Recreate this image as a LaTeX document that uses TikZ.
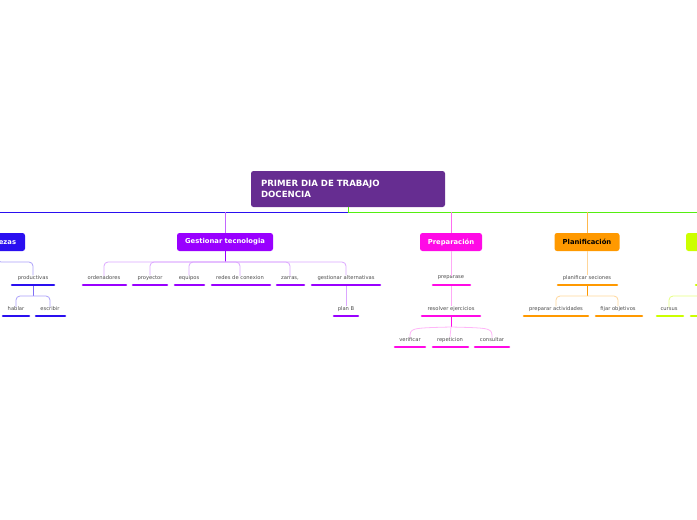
\documentclass[tikz,border=0pt]{standalone}
\usepackage{fontspec}
\setmainfont{DejaVu Sans}
\begin{document}
\begin{tikzpicture}[x=1pt,y=-1pt,
 box/.style={rounded corners=2.5pt,minimum height=18pt,inner sep=0pt,font=\bfseries\fontsize{6.8}{8}\selectfont,text=white},
 lab/.style={font=\fontsize{5.2}{6}\selectfont,text=black!70,inner sep=0pt},
 bar/.style={line width=2.6pt,line cap=round},
 con/.style={line width=0.8pt,rounded corners=4pt}]
\definecolor{cmain}{HTML}{662D91}
\definecolor{cblue}{HTML}{2A0FF0}
\definecolor{cpur}{HTML}{9900FF}
\definecolor{cmag}{HTML}{FF0AE6}
\definecolor{cora}{HTML}{FF9900}
\definecolor{cyel}{HTML}{CCFF00}
\definecolor{cgrn}{HTML}{55EE11}
\useasboundingbox (0,0) rectangle (697,520);
\clip (0,0) rectangle (697,520);
% main
\node[box,fill=cmain,minimum width=194pt,minimum height=36pt,font=\bfseries\fontsize{8.6}{11}\selectfont,align=left,text width=174pt] (main) at (348,189) {PRIMER DIA DE TRABAJO\\DOCENCIA};
\coordinate (mb) at (348,212);
\draw[cblue,line width=1pt] (0,212) -- (mb);
\draw[cgrn,line width=1pt] (mb) -- (697,212);
\draw[cgrn,line width=1pt] (main.south) -- (mb);
% branch boxes
\node[box,fill=cblue,minimum width=56pt] (des) at (-3,242) {Destrezas};
\node[box,fill=cpur,minimum width=96pt] (ges) at (225,242) {Gestionar tecnologia};
\node[box,fill=cmag,minimum width=62pt] (pre) at (451,242) {Preparación};
\node[box,fill=cora,minimum width=65pt,text=black] (pla) at (587,242) {Planificación};
\node[box,fill=cyel,minimum width=60pt,text=black] (fin) at (716,242) {F};
\draw[cpur!60,line width=1pt] (225,212) -- (ges.north);
\draw[cmag!60,line width=1pt] (451,212) -- (pre.north);
\draw[cora!70,line width=1pt] (587,212) -- (pla.north);
% Destrezas children
\node[lab] (prod) at (33,278) {productivas};
\draw[bar,cblue] (12,285) -- (54,285);
\draw[con,cblue!40] (des.south) |- (33,262) -- (prod.north);
\node[lab] (hab) at (16,309) {hablar};
\draw[bar,cblue] (3,316) -- (29,316);
\node[lab] (esc) at (50,309) {escribir};
\draw[bar,cblue] (36,316) -- (65,316);
\draw[cblue!60,line width=0.8pt] (33,286) -- (33,296);
\draw[con,cblue!40] (hab.north) |- (33,296) -| (esc.north);
% Gestionar children
\node[lab] (ord) at (104,278) {ordenadores};
\draw[bar,cpur] (83,285) -- (126,285);
\node[lab] (pro) at (150,278) {proyector};
\draw[bar,cpur] (133,285) -- (167,285);
\node[lab] (equ) at (189,278) {equipos};
\draw[bar,cpur] (175,285) -- (204,285);
\node[lab] (red) at (240,278) {redes de conexion};
\draw[bar,cpur] (212,285) -- (270,285);
\node[lab] (zar) at (290,278) {zarras,};
\draw[bar,cpur] (277,285) -- (304,285);
\node[lab] (alt) at (346,278) {gestionar alternativas};
\draw[bar,cpur] (312,285) -- (380,285);
\draw[cpur,line width=0.8pt] (ges.south) -- (225,262);
\draw[con,cpur!35] (ord.north) |- (225,262) -| (alt.north);
\foreach \n in {pro,equ,red,zar}{\draw[con,cpur!35] (\n.north) |- (225,262);}
\node[lab] (plb) at (346,309) {plan B};
\draw[bar,cpur] (334,316) -- (358,316);
\draw[cpur!35,line width=0.8pt] (346,286) -- (plb.north);
% Preparacion children
\node[lab] (prp) at (451,278) {preparase};
\draw[bar,cmag] (433,285) -- (470,285);
\draw[cmag!35,line width=0.8pt] (pre.south) -- (prp.north);
\node[lab] (res) at (451,309) {resolver ejercicios};
\draw[bar,cmag] (422,316) -- (480,316);
\draw[cmag!35,line width=0.8pt] (451,286) -- (res.north);
\node[lab] (ver) at (410,340) {verificar};
\draw[bar,cmag] (395,347) -- (425,347);
\node[lab] (rep) at (450,340) {repeticion};
\draw[bar,cmag] (433,347) -- (468,347);
\node[lab] (con) at (492,340) {consultar};
\draw[bar,cmag] (475,347) -- (509,347);
\draw[cmag,line width=0.8pt] (451,317) -- (451,327);
\draw[cmag!30,line width=0.8pt] (ver.north) .. controls (410,328) .. (451,327) .. controls (492,328) .. (con.north);
\draw[cmag!30,line width=0.8pt] (451,327) -- (rep.north);
% Planificacion children
\node[lab] (pls) at (587,278) {planificar seciones};
\draw[bar,cora] (558,285) -- (617,285);
\draw[cora!40,line width=0.8pt] (pla.south) -- (pls.north);
\node[lab] (pa) at (556,309) {preparar actividades};
\draw[bar,cora] (524,316) -- (588,316);
\node[lab] (fo) at (618,309) {fijar objetivos};
\draw[bar,cora] (596,316) -- (642,316);
\draw[cora,line width=0.8pt] (587,286) -- (587,296);
\draw[con,cora!40] (pa.north) |- (587,296) -| (fo.north);
% right branch children
\draw[bar,cyel] (696,285) -- (720,285);
\node[lab] (cur) at (669,309) {cursus};
\draw[bar,cyel] (657,316) -- (683,316);
\draw[bar,cyel] (691,316) -- (720,316);
\draw[con,cyel!50] (cur.north) |- (697,296);
\end{tikzpicture}
\end{document}
